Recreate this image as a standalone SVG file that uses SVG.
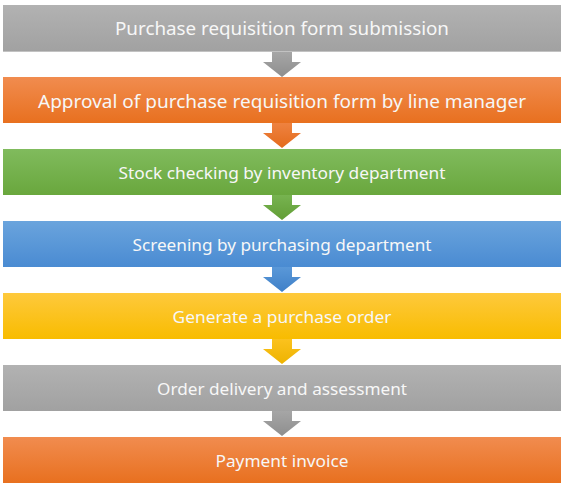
<svg xmlns="http://www.w3.org/2000/svg" width="570" height="491" viewBox="0 0 570 491">
<defs>
<linearGradient id="gGray" x1="0" y1="0" x2="0" y2="1"><stop offset="0" stop-color="#b2b2b2"/><stop offset="1" stop-color="#a1a1a1"/></linearGradient>
<linearGradient id="gOrange" x1="0" y1="0" x2="0" y2="1"><stop offset="0" stop-color="#f18c4f"/><stop offset="1" stop-color="#e8701f"/></linearGradient>
<linearGradient id="gGreen" x1="0" y1="0" x2="0" y2="1"><stop offset="0" stop-color="#80bb5d"/><stop offset="1" stop-color="#69a73d"/></linearGradient>
<linearGradient id="gBlue" x1="0" y1="0" x2="0" y2="1"><stop offset="0" stop-color="#6aa4dd"/><stop offset="1" stop-color="#4a8bd2"/></linearGradient>
<linearGradient id="gYellow" x1="0" y1="0" x2="0" y2="1"><stop offset="0" stop-color="#fec93c"/><stop offset="1" stop-color="#f8bc00"/></linearGradient>
<linearGradient id="aGray" x1="0" y1="0" x2="0" y2="1"><stop offset="0" stop-color="#a6a6a6"/><stop offset="1" stop-color="#8e8e8e"/></linearGradient>
<linearGradient id="aOrange" x1="0" y1="0" x2="0" y2="1"><stop offset="0" stop-color="#ee8240"/><stop offset="1" stop-color="#e46b1c"/></linearGradient>
<linearGradient id="aGreen" x1="0" y1="0" x2="0" y2="1"><stop offset="0" stop-color="#77b350"/><stop offset="1" stop-color="#629e36"/></linearGradient>
<linearGradient id="aBlue" x1="0" y1="0" x2="0" y2="1"><stop offset="0" stop-color="#5a98d8"/><stop offset="1" stop-color="#3f80c8"/></linearGradient>
<linearGradient id="aYellow" x1="0" y1="0" x2="0" y2="1"><stop offset="0" stop-color="#fbc21e"/><stop offset="1" stop-color="#eeb300"/></linearGradient>
<path id="arrow" d="M272 0 H292 V10 H301 L282 25 L263 10 H272 Z"/>
</defs>
<style>
text{font-family:"Noto Sans","Open Sans","Liberation Sans",sans-serif;fill:#f7f7f7;text-anchor:middle}
.big{font-size:18.5px}
.sm{font-size:17px}
.edge{stroke:#ffffff;stroke-opacity:0.35;stroke-width:1}
</style>
<rect width="570" height="491" fill="#ffffff"/>
<g id="connectors">
<use href="#arrow" y="52" fill="url(#aGray)"/>
<use href="#arrow" y="123" fill="url(#aOrange)"/>
<use href="#arrow" y="195" fill="url(#aGreen)"/>
<use href="#arrow" y="267" fill="url(#aBlue)"/>
<use href="#arrow" y="339" fill="url(#aYellow)"/>
<use href="#arrow" y="411" fill="url(#aGray)"/>
</g>
<g id="n1"><rect x="3" y="5" width="558" height="47" fill="url(#gGray)"/><line class="edge" x1="3" y1="51.5" x2="561" y2="51.5"/><text class="big" x="282" y="35" textLength="334" lengthAdjust="spacingAndGlyphs">Purchase requisition form submission</text></g>
<g id="n2"><rect x="3" y="77" width="558" height="46" fill="url(#gOrange)"/><text class="big" x="282" y="108" textLength="488" lengthAdjust="spacingAndGlyphs">Approval of purchase requisition form by line manager</text></g>
<g id="n3"><rect x="3" y="149" width="558" height="46" fill="url(#gGreen)"/><text class="sm" x="282" y="179" textLength="327" lengthAdjust="spacingAndGlyphs">Stock checking by inventory department</text></g>
<g id="n4"><rect x="3" y="221" width="558" height="46" fill="url(#gBlue)"/><text class="sm" x="282" y="251" textLength="299" lengthAdjust="spacingAndGlyphs">Screening by purchasing department</text></g>
<g id="n5"><rect x="3" y="293" width="558" height="46" fill="url(#gYellow)"/><text class="sm" x="282" y="323" textLength="219" lengthAdjust="spacingAndGlyphs">Generate a purchase order</text></g>
<g id="n6"><rect x="3" y="365" width="558" height="46" fill="url(#gGray)"/><text class="sm" x="282" y="395" textLength="250" lengthAdjust="spacingAndGlyphs">Order delivery and assessment</text></g>
<g id="n7"><rect x="3" y="437" width="558" height="46" fill="url(#gOrange)"/><text class="sm" x="282" y="467" textLength="133" lengthAdjust="spacingAndGlyphs">Payment invoice</text></g>
</svg>
